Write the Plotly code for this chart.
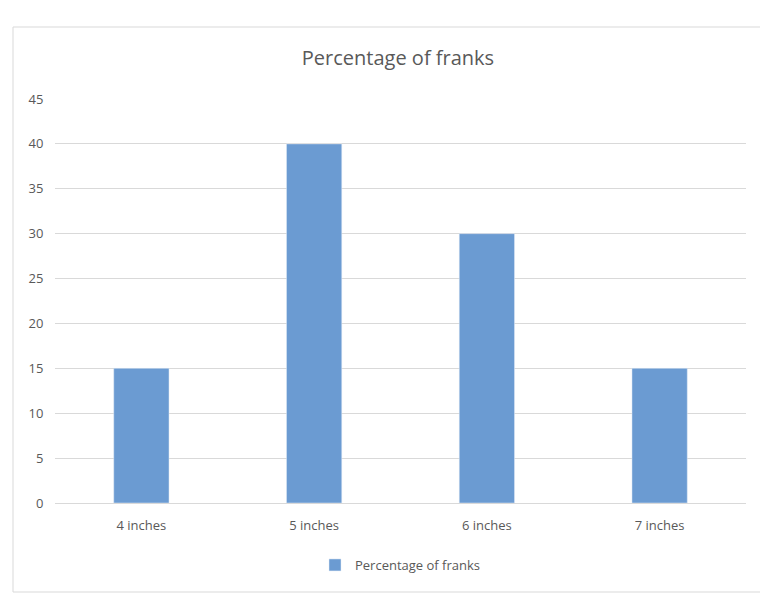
import plotly.graph_objects as go

categories = ["4 inches", "5 inches", "6 inches", "7 inches"]
values = [15, 40, 30, 15]
series_name = "Percentage of franks"

fig = go.Figure(go.Bar(x=categories, y=values, name=series_name,
                       marker_color="#6b9bd2", width=0.32, showlegend=True))

off = 8
L, R, T, B, W, H = 55 - off, 22 + off, 99 - off, 103 + off, 768, 606
pw, ph = W - L - R, H - T - B
fig.update_layout(
    width=W, height=H,
    margin=dict(l=L, r=R, t=T, b=B),
    paper_bgcolor="white", plot_bgcolor="white",
    font=dict(family="Open Sans", color="#595959", size=13),
    title=dict(text="Percentage of franks", x=(398 - off) / W, xanchor="center",
               y=1 - (58 - off) / H, yanchor="middle", font=dict(size=20, color="#595959")),
    xaxis=dict(showline=True, linecolor="#d9d9d9", ticks="outside", ticklen=10,
               tickcolor="white", showgrid=False),
    yaxis=dict(range=[0, 45], dtick=5, gridcolor="#d9d9d9", zeroline=False,
               showline=False, ticks="outside", ticklen=8, tickcolor="white"),
    legend=dict(orientation="h", x=0.5, xanchor="center", y=-(565 - 503) / ph,
                yanchor="middle", font=dict(size=13), itemwidth=30),
    bargap=0.68,
)
fig.add_shape(type="rect", xref="paper", yref="paper",
              x0=(13 - 55) / pw, x1=(766 - 55) / pw,
              y0=(503 - 592) / ph, y1=(503 - 27) / ph,
              line=dict(color="#d9d9d9", width=1))
fig.write_html("out.html")
